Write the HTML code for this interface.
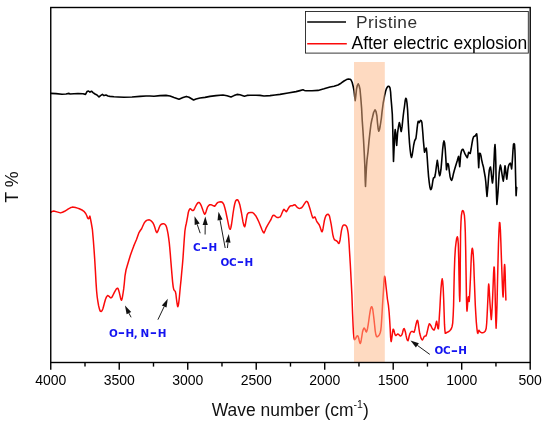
<!DOCTYPE html>
<html><head><meta charset="utf-8"><title>FTIR spectra</title>
<style>
html,body{margin:0;padding:0;background:#fff;}
body{width:550px;height:423px;overflow:hidden;}
svg{display:block;font-family:"Liberation Sans",Arial,sans-serif;}
.ax line,.ax rect{stroke:#000;stroke-width:1.4;fill:none;}
.tl text{font-size:14px;fill:#000;}
.ann text{font-family:"DejaVu Sans","Liberation Sans",sans-serif;font-size:10.4px;font-weight:bold;fill:#1414f0;}
.ann .d{font-size:13.6px;}
.arr line{stroke:#111;stroke-width:0.95;}
.arr polygon{fill:#111;}
</style></head><body>
<svg width="550" height="423" viewBox="0 0 550 423">
<rect width="550" height="423" fill="#fff"/>
<path d="M50.8,93.4 L56.0,93.6 L62.0,94.2 L66.0,94.0 L69.0,93.4 L70.0,94.0 L74.0,93.8 L78.0,93.6 L83.0,93.8 L85.5,94.4 L87.0,91.6 L88.5,91.0 L90.0,92.2 L91.5,91.2 L93.0,92.6 L95.0,94.0 L97.0,95.0 L99.0,97.0 L100.5,95.6 L102.4,94.4 L104.0,95.6 L106.0,95.0 L108.0,96.0 L110.0,96.4 L114.0,96.8 L118.0,97.0 L124.0,97.2 L132.0,97.0 L140.0,96.4 L146.0,96.0 L150.0,96.0 L154.0,96.2 L160.0,95.6 L166.0,95.4 L170.0,96.0 L174.0,97.6 L179.0,99.2 L183.0,97.6 L186.4,96.4 L189.0,97.2 L193.6,100.0 L196.0,99.0 L200.0,98.0 L205.0,97.4 L210.0,96.4 L216.0,95.6 L223.0,95.0 L227.0,95.8 L231.0,97.0 L234.0,95.6 L237.0,94.4 L240.0,94.8 L244.4,96.2 L247.0,95.4 L250.0,95.2 L256.0,95.2 L260.0,95.4 L264.0,96.0 L270.0,95.6 L275.0,95.0 L280.0,94.4 L288.0,93.0 L296.0,91.6 L300.0,90.6 L303.0,89.8 L304.5,90.4 L306.0,90.8 L312.0,90.8 L318.0,90.4 L324.0,88.8 L330.0,87.0 L334.0,86.2 L338.0,85.0 L341.0,83.2 L344.0,81.0 L346.5,79.6 L348.4,79.0 L350.0,79.2 L351.2,80.2 L352.2,82.5 L353.2,86.5 L354.0,90.5 L354.7,97.0 L355.2,100.6 L355.8,96.0 L356.5,89.2 L357.3,85.5 L358.2,83.8 L359.1,85.5 L360.0,89.2 L360.8,98.0 L361.6,108.3 L362.2,120.0 L362.9,130.0 L363.5,139.2 L364.2,152.0 L364.8,165.0 L365.2,180.0 L365.5,186.5 L365.8,180.0 L366.4,168.0 L367.0,160.0 L368.0,152.0 L369.0,141.0 L369.9,132.8 L371.0,124.0 L371.8,120.0 L372.5,117.3 L373.6,112.5 L375.0,109.8 L376.0,111.5 L376.9,116.0 L377.5,123.0 L378.2,129.0 L378.8,131.2 L379.5,129.5 L380.1,126.5 L380.8,122.0 L381.4,118.0 L382.0,112.1 L383.2,103.0 L384.6,95.5 L385.6,91.2 L386.5,88.5 L387.5,86.8 L388.4,86.3 L389.3,86.6 L390.0,87.9 L390.6,92.0 L391.0,98.1 L391.6,105.0 L392.3,114.0 L392.7,126.0 L393.1,145.0 L393.5,161.5 L393.9,152.0 L394.4,142.0 L394.8,133.0 L395.2,129.6 L395.7,133.0 L396.1,137.9 L396.4,142.5 L396.7,145.5 L397.1,140.0 L397.6,132.8 L398.4,127.0 L399.3,122.6 L399.8,124.0 L400.2,126.4 L400.7,129.5 L401.2,131.5 L401.6,129.5 L402.1,126.4 L402.6,121.5 L403.2,116.0 L403.8,111.0 L404.4,107.0 L405.2,100.5 L405.8,98.3 L406.4,99.0 L407.0,103.0 L407.6,110.0 L408.2,121.9 L408.9,134.0 L409.5,143.0 L410.1,149.5 L410.8,155.0 L411.5,157.5 L412.2,155.0 L412.9,150.5 L413.7,145.0 L414.6,140.8 L415.3,139.5 L415.9,138.5 L416.5,134.0 L417.1,128.3 L417.7,123.5 L418.2,121.3 L418.8,122.2 L419.3,122.6 L420.0,121.0 L420.6,120.4 L421.3,120.8 L421.9,122.5 L422.4,128.0 L422.9,134.0 L423.4,141.0 L423.9,146.2 L424.3,150.5 L424.6,152.3 L425.0,151.0 L425.4,150.0 L425.9,148.5 L426.3,148.1 L426.8,152.0 L427.3,159.0 L427.9,168.0 L428.6,176.9 L429.3,183.0 L429.9,187.1 L430.5,189.3 L430.9,189.6 L431.5,188.5 L432.1,185.8 L432.8,181.0 L433.4,178.1 L434.0,177.6 L434.6,177.5 L435.2,175.0 L435.7,171.8 L436.5,165.5 L437.3,160.3 L437.9,164.0 L438.5,169.2 L439.1,173.5 L439.7,175.8 L440.3,174.0 L441.0,169.2 L441.8,160.0 L442.7,148.8 L443.4,143.0 L444.0,140.9 L444.6,143.0 L445.2,148.8 L445.8,158.0 L446.5,169.8 L447.1,166.0 L447.8,163.5 L448.3,164.2 L448.7,166.0 L449.3,171.0 L450.0,176.2 L450.8,179.3 L451.6,180.4 L452.4,178.5 L453.3,174.3 L454.3,170.5 L455.4,166.7 L456.4,163.5 L457.4,160.3 L458.0,158.0 L458.6,156.4 L459.2,162.0 L459.7,166.7 L460.2,161.0 L460.6,155.2 L461.2,152.0 L461.8,150.0 L462.5,149.4 L463.1,149.4 L464.0,151.5 L465.0,153.9 L466.2,156.0 L467.3,157.7 L468.0,155.0 L468.6,152.3 L469.4,153.0 L470.2,153.5 L471.1,149.0 L472.0,143.3 L472.8,139.0 L473.7,136.6 L474.5,136.1 L475.2,136.0 L476.0,134.6 L476.7,133.8 L477.1,137.0 L477.5,143.0 L477.9,152.0 L478.3,160.0 L478.7,167.8 L479.1,160.0 L479.5,153.2 L480.3,153.5 L481.0,156.0 L481.6,159.6 L482.6,164.0 L483.5,167.3 L484.3,172.0 L485.2,177.0 L485.8,182.0 L486.4,190.0 L487.0,196.4 L487.5,191.0 L488.0,185.5 L488.6,177.0 L489.3,170.2 L489.9,168.0 L490.5,167.0 L491.1,171.0 L491.6,176.6 L492.1,181.0 L492.5,183.0 L493.0,179.0 L493.4,174.0 L493.8,166.0 L494.2,157.0 L494.6,148.0 L495.0,144.5 L495.4,150.0 L495.8,162.0 L496.2,185.5 L496.6,198.0 L496.9,204.4 L497.4,199.0 L498.0,192.0 L498.6,182.0 L499.2,172.8 L499.8,168.0 L500.4,165.1 L501.1,168.0 L501.8,172.8 L502.6,178.0 L503.3,181.1 L503.8,177.5 L504.3,172.8 L504.7,168.0 L505.0,165.7 L505.5,168.5 L505.9,172.8 L506.4,177.0 L506.8,179.2 L507.3,175.0 L507.8,170.2 L508.4,166.5 L509.1,164.5 L509.7,163.6 L510.3,163.2 L511.0,165.5 L511.6,168.9 L512.1,164.0 L512.5,158.3 L513.0,150.0 L513.5,144.3 L514.0,143.6 L514.5,144.3 L514.9,150.0 L515.2,158.3 L515.5,172.8 L515.8,185.5 L516.1,195.8 L516.4,191.0 L516.7,187.5" fill="none" stroke="#000" stroke-width="1.6" stroke-linejoin="round" stroke-linecap="round"/>
<path d="M50.8,212.4 L52.2,211.4 L53.7,211.0 L56.9,211.9 L60.5,212.9 L62.5,212.3 L64.6,211.3 L66.5,210.1 L68.4,208.8 L70.3,207.8 L72.3,207.1 L74.0,207.2 L75.5,207.5 L77.5,208.1 L79.3,208.8 L82.5,210.3 L84.3,211.7 L85.7,213.5 L86.8,215.8 L87.6,218.0 L88.3,218.7 L88.9,218.6 L89.4,217.0 L89.9,216.1 L90.5,219.0 L91.2,222.5 L92.4,229.5 L93.3,239.7 L94.0,249.0 L94.7,259.2 L95.4,271.0 L96.0,282.1 L96.6,291.0 L97.2,297.0 L97.9,301.7 L98.5,305.2 L99.2,308.1 L99.8,310.2 L100.4,311.3 L101.2,311.4 L102.0,310.7 L102.8,309.0 L103.6,306.2 L104.5,302.8 L105.5,299.2 L106.5,296.9 L107.5,295.6 L108.3,295.8 L109.1,296.3 L110.0,297.3 L110.9,297.9 L111.8,297.3 L112.6,296.0 L113.5,294.2 L114.5,292.1 L115.5,290.3 L116.4,288.9 L117.2,288.3 L117.9,288.3 L118.5,289.8 L119.2,292.1 L119.9,295.2 L120.5,297.9 L121.0,299.6 L121.5,300.2 L122.0,299.0 L122.5,296.6 L123.1,293.0 L123.7,288.9 L124.3,283.5 L125.0,275.8 L126.0,270.0 L127.3,265.5 L128.8,260.5 L130.4,255.3 L132.0,250.8 L133.6,246.4 L135.0,243.0 L136.5,239.5 L139.0,232.6 L140.3,230.5 L141.6,228.7 L142.9,225.8 L144.2,223.0 L145.4,221.4 L146.7,220.4 L148.0,219.9 L149.3,219.8 L150.5,220.4 L151.8,221.5 L152.8,222.7 L153.7,224.3 L154.6,226.8 L155.4,229.4 L156.2,231.7 L156.9,232.6 L157.7,231.5 L158.5,229.4 L159.3,227.2 L160.1,225.5 L161.0,224.5 L162.0,224.0 L163.0,223.7 L164.0,223.8 L165.0,224.4 L165.9,225.5 L166.7,227.6 L167.4,230.7 L168.1,234.2 L168.7,238.3 L169.3,243.0 L169.7,247.3 L170.3,254.0 L170.8,260.5 L171.3,266.6 L172.0,275.0 L172.6,281.9 L173.2,286.8 L173.8,289.6 L174.6,290.7 L175.3,291.3 L175.9,294.0 L176.4,298.5 L177.0,303.0 L177.5,306.0 L177.8,306.7 L178.2,305.8 L178.7,303.0 L179.2,299.0 L179.8,292.5 L180.4,286.0 L181.1,279.4 L181.7,272.5 L182.4,265.3 L183.0,258.0 L183.6,249.0 L184.2,240.0 L184.9,231.0 L185.6,226.5 L186.3,223.5 L186.9,220.3 L187.6,216.6 L188.3,212.5 L189.0,210.3 L189.8,209.0 L190.5,208.7 L191.3,209.5 L192.2,210.4 L193.0,210.6 L193.7,210.2 L194.7,208.3 L195.8,206.0 L196.8,204.2 L197.7,203.0 L198.5,202.5 L199.3,202.5 L200.2,203.6 L201.1,205.3 L202.1,208.0 L203.2,211.1 L204.0,213.2 L204.7,214.3 L205.4,213.4 L206.0,211.7 L206.8,209.2 L207.5,207.2 L208.6,205.6 L209.8,204.7 L211.0,204.8 L212.1,205.1 L213.4,205.8 L214.7,206.3 L215.7,205.0 L216.8,203.4 L218.0,202.4 L219.4,201.9 L220.7,201.8 L222.0,202.1 L223.0,203.1 L223.9,204.7 L224.8,207.8 L225.8,211.7 L226.7,216.0 L227.7,220.7 L228.5,224.6 L229.2,227.7 L229.8,229.0 L230.3,229.3 L230.9,227.5 L231.5,224.5 L232.3,219.0 L233.1,213.0 L233.9,208.0 L234.7,204.0 L235.5,201.3 L236.4,200.0 L237.2,199.7 L237.9,200.0 L238.8,201.8 L239.8,204.7 L240.6,208.5 L241.5,213.0 L242.3,217.8 L243.0,221.9 L243.9,225.5 L244.7,226.8 L245.3,225.0 L245.8,221.9 L246.5,218.0 L247.1,214.9 L247.9,213.3 L248.8,212.7 L250.5,212.5 L252.5,212.5 L254.0,213.7 L255.7,215.7 L257.3,218.6 L258.9,222.0 L260.5,226.0 L262.0,229.7 L263.0,231.9 L264.0,232.9 L264.9,231.0 L265.9,228.4 L267.5,225.3 L269.1,222.7 L270.0,221.2 L271.0,219.5 L272.0,217.0 L272.9,215.4 L273.8,215.3 L274.8,215.7 L276.0,216.8 L277.4,217.6 L278.8,217.4 L280.2,216.9 L281.2,215.0 L282.2,212.5 L283.1,210.5 L284.0,209.3 L285.1,210.5 L286.3,211.8 L287.2,210.5 L288.2,208.6 L289.2,207.0 L290.1,206.1 L291.4,205.8 L292.7,205.7 L293.8,205.0 L295.0,204.8 L296.1,206.0 L297.2,207.3 L298.2,208.0 L299.1,208.4 L300.3,208.2 L301.6,207.7 L302.9,206.2 L304.2,204.2 L305.4,202.3 L306.5,201.3 L307.3,201.7 L308.1,203.0 L309.0,205.8 L309.9,208.6 L310.8,211.6 L311.6,214.4 L312.3,216.6 L312.9,218.0 L313.6,217.8 L314.4,216.9 L315.0,217.0 L315.6,218.5 L316.5,220.8 L317.5,222.6 L319.0,224.4 L320.0,226.7 L321.0,229.7 L321.6,231.4 L322.1,231.8 L322.6,230.5 L323.1,228.2 L323.7,224.5 L324.4,220.5 L325.2,217.5 L326.1,215.4 L327.0,214.4 L328.0,214.2 L328.8,214.8 L329.5,216.1 L330.3,219.8 L331.2,224.4 L332.0,229.5 L332.8,234.6 L333.6,237.8 L334.4,239.7 L335.3,240.3 L336.3,240.7 L337.1,241.3 L337.9,242.3 L338.5,243.3 L339.0,243.5 L339.5,242.2 L340.1,239.7 L340.7,235.5 L341.4,230.8 L342.2,227.3 L343.1,225.4 L344.0,224.9 L344.8,225.0 L345.7,225.4 L346.5,226.3 L347.2,228.0 L347.8,230.8 L348.3,234.0 L348.7,238.4 L349.1,244.0 L349.5,251.0 L350.3,264.2 L351.3,283.3 L351.9,295.0 L352.6,314.2 L353.1,326.0 L353.5,333.3 L353.9,337.5 L354.4,339.7 L355.0,339.3 L355.7,338.4 L356.3,337.0 L357.0,335.9 L357.6,335.8 L358.2,336.5 L358.8,338.6 L359.3,341.0 L359.8,342.8 L360.3,343.5 L360.8,342.3 L361.3,339.7 L361.9,336.0 L362.5,332.0 L363.3,329.3 L364.1,328.0 L364.8,328.7 L365.4,330.1 L365.9,331.5 L366.4,332.0 L367.0,330.6 L367.6,328.2 L368.2,324.6 L368.8,320.5 L369.4,316.0 L370.1,311.6 L370.7,308.4 L371.4,306.7 L372.0,307.0 L372.7,309.0 L373.3,313.5 L374.0,319.3 L374.6,325.0 L375.2,330.8 L375.8,334.5 L376.5,336.5 L377.1,336.8 L377.8,336.5 L378.6,335.8 L379.4,334.6 L380.1,333.0 L380.7,330.8 L381.2,326.5 L381.6,320.5 L382.1,312.5 L382.5,305.2 L382.9,299.0 L383.3,293.0 L383.8,284.0 L384.2,278.5 L384.6,276.3 L385.0,277.6 L385.5,281.5 L386.1,287.1 L386.7,292.5 L387.4,299.0 L388.4,305.2 L389.1,312.0 L389.7,320.5 L390.2,329.0 L390.6,337.1 L390.9,340.5 L391.2,341.6 L391.6,339.5 L392.1,335.9 L392.6,332.0 L393.1,329.2 L393.6,329.6 L394.0,330.8 L394.5,332.8 L395.0,334.6 L395.5,335.3 L396.0,335.6 L396.8,334.7 L397.6,334.0 L398.3,334.2 L398.9,334.6 L399.6,335.5 L400.4,336.1 L401.2,335.6 L402.0,334.6 L402.6,332.5 L403.2,330.0 L403.7,328.8 L404.1,328.5 L404.7,329.7 L405.4,332.0 L406.0,335.2 L406.7,338.4 L407.4,340.2 L408.0,340.7 L408.6,338.8 L409.2,335.9 L410.0,333.5 L410.8,332.0 L411.5,331.5 L412.3,331.4 L413.2,331.9 L414.0,332.3 L414.6,330.8 L415.2,328.2 L415.8,325.3 L416.5,322.5 L417.0,320.8 L417.5,320.3 L418.0,321.8 L418.4,324.4 L419.0,328.8 L419.7,333.3 L420.5,336.3 L421.2,338.4 L421.9,339.7 L422.5,340.0 L423.3,338.5 L424.2,336.5 L425.1,336.1 L426.1,335.9 L426.8,333.5 L427.6,330.1 L428.4,326.5 L429.3,323.7 L430.1,324.4 L430.9,325.7 L431.7,327.3 L432.5,328.8 L433.3,329.7 L434.0,330.1 L434.7,328.8 L435.3,326.9 L436.0,323.5 L436.6,321.2 L437.1,323.5 L437.6,326.9 L438.0,328.6 L438.4,328.8 L438.8,325.5 L439.1,320.5 L439.5,314.0 L439.9,307.8 L440.4,298.0 L441.0,288.5 L441.6,282.0 L442.2,278.8 L442.7,281.5 L443.2,288.0 L443.7,300.0 L444.1,312.0 L444.5,324.4 L444.9,330.5 L445.3,333.3 L445.8,333.2 L446.3,332.7 L447.8,332.0 L448.8,331.5 L449.7,330.8 L450.6,329.8 L451.4,328.5 L452.1,326.5 L452.7,323.1 L453.2,315.0 L453.6,305.0 L453.9,290.0 L454.3,272.0 L454.8,257.8 L455.4,248.0 L456.1,242.1 L456.7,238.2 L457.3,236.8 L457.8,238.2 L458.3,244.0 L458.7,258.0 L459.1,280.0 L459.5,296.0 L459.8,301.4 L460.1,290.0 L460.3,260.0 L460.6,231.9 L461.0,221.5 L461.4,215.3 L462.1,211.3 L462.8,210.5 L463.6,211.6 L464.4,215.3 L464.9,222.0 L465.3,231.9 L465.7,250.0 L466.1,275.0 L466.5,300.0 L466.8,309.0 L467.0,311.1 L467.3,308.5 L467.7,302.8 L468.1,298.0 L468.4,296.8 L468.8,299.5 L469.2,301.5 L469.5,297.5 L469.9,290.0 L470.5,276.9 L471.0,264.0 L471.4,255.2 L471.9,249.8 L472.3,248.2 L472.8,250.0 L473.3,255.2 L473.8,265.0 L474.2,276.9 L474.7,290.0 L475.3,305.3 L475.8,314.0 L476.3,321.9 L476.8,327.5 L477.2,330.9 L477.6,333.0 L477.9,333.4 L478.4,331.5 L478.9,330.2 L479.6,331.3 L480.4,332.1 L481.5,332.7 L482.7,332.8 L483.8,332.4 L484.9,331.5 L485.6,330.3 L486.2,328.3 L486.7,323.0 L487.1,315.5 L487.6,305.0 L488.1,294.0 L488.4,287.0 L488.7,284.1 L489.0,286.0 L489.4,293.0 L489.9,302.0 L490.4,309.0 L490.9,316.0 L491.3,319.6 L491.7,315.0 L492.2,306.6 L492.7,296.0 L493.2,283.0 L493.6,273.0 L494.0,267.0 L494.3,267.5 L494.6,274.0 L495.0,288.0 L495.4,306.0 L495.8,321.0 L496.1,328.3 L496.5,320.0 L497.0,305.0 L497.5,282.0 L498.0,262.0 L498.5,243.0 L499.0,230.0 L499.5,222.4 L499.9,223.0 L500.4,230.0 L500.9,243.0 L501.4,258.0 L501.9,272.0 L502.4,286.0 L502.8,294.5 L503.1,296.9 L503.5,290.0 L503.9,278.0 L504.3,267.5 L504.6,264.4 L504.9,267.0 L505.2,275.0 L505.5,287.0 L505.8,297.0 L505.9,300.1" fill="none" stroke="#fb0a0a" stroke-width="1.5" stroke-linejoin="round" stroke-linecap="round"/>
<rect x="354" y="62" width="30.8" height="300" fill="rgb(253,181,131)" fill-opacity="0.5"/>
<g class="ax"><rect x="50.75" y="7.5" width="479.45" height="355"/><line x1="50.75" y1="362.5" x2="50.75" y2="369.7"/><line x1="85.00" y1="362.5" x2="85.00" y2="366.6"/><line x1="119.24" y1="362.5" x2="119.24" y2="369.7"/><line x1="153.49" y1="362.5" x2="153.49" y2="366.6"/><line x1="187.74" y1="362.5" x2="187.74" y2="369.7"/><line x1="221.98" y1="362.5" x2="221.98" y2="366.6"/><line x1="256.23" y1="362.5" x2="256.23" y2="369.7"/><line x1="290.48" y1="362.5" x2="290.48" y2="366.6"/><line x1="324.72" y1="362.5" x2="324.72" y2="369.7"/><line x1="358.97" y1="362.5" x2="358.97" y2="366.6"/><line x1="393.21" y1="362.5" x2="393.21" y2="369.7"/><line x1="427.46" y1="362.5" x2="427.46" y2="366.6"/><line x1="461.71" y1="362.5" x2="461.71" y2="369.7"/><line x1="495.95" y1="362.5" x2="495.95" y2="366.6"/><line x1="530.20" y1="362.5" x2="530.20" y2="369.7"/></g>
<g class="tl"><text x="50.75" y="385.2" text-anchor="middle">4000</text><text x="119.24" y="385.2" text-anchor="middle">3500</text><text x="187.74" y="385.2" text-anchor="middle">3000</text><text x="256.23" y="385.2" text-anchor="middle">2500</text><text x="324.72" y="385.2" text-anchor="middle">2000</text><text x="393.21" y="385.2" text-anchor="middle">1500</text><text x="461.71" y="385.2" text-anchor="middle">1000</text><text x="530.20" y="385.2" text-anchor="middle">500</text></g>
<g class="arr"><line x1="128.9" y1="313.1" x2="131.1" y2="317.3"/><polygon points="125.0,305.5 126.6,314.2 131.2,311.9"/><line x1="164.2" y1="306.5" x2="157.9" y2="319.7"/><polygon points="167.8,298.8 161.8,305.4 166.5,307.6"/><line x1="197.2" y1="224.3" x2="200.2" y2="233.2"/><polygon points="194.5,216.2 194.7,225.1 199.7,223.4"/><line x1="205.2" y1="225.1" x2="205.1" y2="234.5"/><polygon points="205.3,216.6 202.6,225.1 207.8,225.1"/><line x1="220.0" y1="220.1" x2="225.2" y2="248.0"/><polygon points="218.5,211.7 217.5,220.5 222.6,219.6"/><line x1="228.0" y1="242.5" x2="227.4" y2="248.0"/><polygon points="228.8,234.0 225.4,242.2 230.5,242.7"/><line x1="417.4" y1="345.4" x2="429.8" y2="354.4"/><polygon points="410.5,340.4 415.9,347.5 418.9,343.3"/></g>
<g class="ann">
<text x="109.0 118.0 125.6 133.8 137 140.6 150.0 157.7" y="336.6">O<tspan class="d" dy="0.8">–</tspan><tspan dy="-0.8">H, N</tspan><tspan class="d" dy="0.8">–</tspan><tspan dy="-0.8">H</tspan></text>
<text x="192.9 201.1 208.5" y="250.7">C<tspan class="d" dy="0.8">–</tspan><tspan dy="-0.8">H</tspan></text>
<text x="220.6 228.9 237.1 244.5" y="265.6">OC<tspan class="d" dy="0.8">–</tspan><tspan dy="-0.8">H</tspan></text>
<text x="434.5 442.9 450.9 458.2" y="354.4">OC<tspan class="d" dy="0.8">–</tspan><tspan dy="-0.8">H</tspan></text>
</g>
<rect x="305.5" y="11.5" width="222.8" height="41.6" fill="#fff" stroke="#222" stroke-width="0.9"/>
<line x1="307.2" y1="22.0" x2="346" y2="22.0" stroke="#000" stroke-width="1.4"/>
<line x1="307.2" y1="43.7" x2="346.8" y2="43.7" stroke="#fb0a0a" stroke-width="1.4"/>
<text x="356.0" y="28.4" font-size="17.3" fill="#303030" textLength="61.0" lengthAdjust="spacing">Pristine</text>
<text x="351.5" y="49.4" font-size="17.8" fill="#000" textLength="175.8" lengthAdjust="spacingAndGlyphs">After electric explosion</text>
<text x="211.8" y="415.6" font-size="17.45" fill="#111">Wave number (cm<tspan font-size="10.5" dy="-7.5">-1</tspan><tspan dy="7.5">)</tspan></text>
<text transform="translate(17.8,202.8) rotate(-90)" font-size="17.8" fill="#111">T %</text>
</svg>
</body></html>
